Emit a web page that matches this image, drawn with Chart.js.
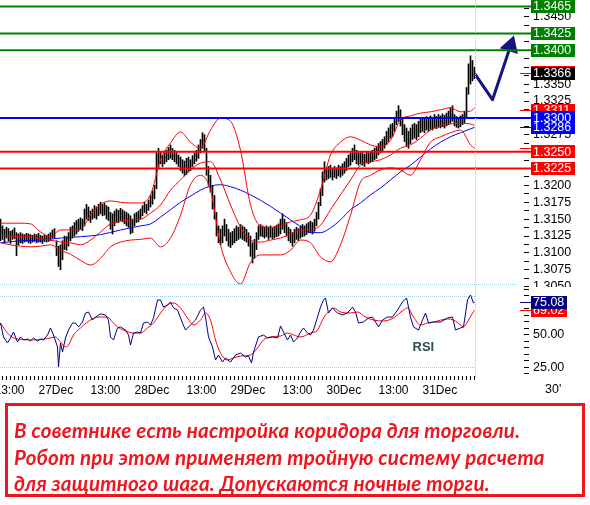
<!DOCTYPE html>
<html lang="ru">
<head>
<meta charset="utf-8">
<title>EURUSD 30'</title>
<script src="https://cdn.jsdelivr.net/npm/chart.js@4.4.1/dist/chart.umd.min.js"></script>
<style>
  html, body { margin: 0; padding: 0; background: #fff; }
  body { width: 590px; height: 505px; position: relative; overflow: hidden; }
  #price { position: absolute; left: -10px; top: 0; }
  #rsi { position: absolute; left: -10px; top: 284px; }
  #note {
    position: absolute; left: 5px; top: 403px; width: 580px; height: 94px;
    box-sizing: border-box; border: 3px solid #f0141e;
    padding: 11px 0 0 6px; white-space: nowrap; letter-spacing: 0.2px;
    color: #f0141e; font: italic bold 20.5px/26.5px Lato, "Noto Sans", sans-serif;
  }
</style>
</head>
<body>
<canvas id="price" width="600" height="287"></canvas>
<canvas id="rsi" width="600" height="116"></canvas>
<div id="note">В советнике есть настройка коридора для торговли.<br>Робот при этом применяет тройную систему расчета<br>для защитного шага. Допускаются ночные торги.</div>
<script>
// prices are points above 1.3000; one bar = 30 min, bar 19 = 27 Dec 00:00
const BASE = 1.3;

const highPts = [
  150,140,135,138,136,132,134,137,130,128,
  130,128,127,129,128,127,126,128,127,129,
  126,125,127,126,128,130,134,136,118,110,
  112,118,125,124,130,138,140,145,148,150,
  152,150,165,172,168,162,165,170,168,172,
  175,172,174,170,168,160,158,162,165,163,
  166,164,162,160,158,155,150,158,160,162,
  165,170,175,172,178,185,192,200,250,255,
  250,245,248,252,256,260,255,252,250,245,
  242,238,236,240,242,238,244,248,252,260,
  268,278,275,255,228,215,200,185,160,140,
  135,140,150,142,135,130,132,136,140,138,
  142,140,138,135,130,125,115,120,130,140,
  142,140,138,140,138,140,137,139,141,143,
  150,158,150,145,138,135,130,135,138,136,
  140,142,140,143,145,147,145,150,160,175,
  195,220,235,225,228,230,225,228,226,230,
  228,232,235,240,245,248,255,260,252,248,
  250,248,246,250,248,250,252,255,258,262,
  265,268,272,280,285,290,292,300,310,318,
  312,300,290,285,280,285,290,292,290,295,
  298,300,298,302,300,303,300,305,302,305,
  303,306,304,307,310,315,318,305,302,300,
  303,305,310,345,380,392,385,375
];
const lowPts = [
  118,120,115,122,118,114,120,121,96,112,
  115,114,116,117,115,114,116,117,115,116,
  116,114,117,116,117,118,122,122,96,80,
  75,90,105,104,110,118,122,125,128,132,
  135,133,140,150,148,145,150,152,150,155,
  158,155,156,150,148,135,128,140,145,145,
  148,146,143,140,138,128,130,140,145,146,
  150,155,160,158,163,168,172,180,195,225,
  232,228,232,235,238,240,238,235,232,228,
  222,218,214,216,220,222,228,232,236,240,
  248,255,250,215,200,190,165,150,125,115,
  112,115,125,118,110,108,112,115,118,120,
  122,120,118,116,110,95,85,92,105,120,
  125,124,122,124,120,123,121,122,124,125,
  128,135,130,125,118,115,110,115,120,118,
  122,124,125,127,130,130,128,132,140,150,
  170,185,205,208,210,212,208,212,210,214,
  212,215,218,222,228,230,235,238,232,230,
  232,230,228,233,232,234,235,238,240,245,
  248,250,255,260,265,270,272,280,290,295,
  288,275,265,258,255,262,268,270,268,272,
  278,280,278,282,280,283,282,285,284,286,
  285,287,285,288,290,292,295,288,286,285,
  287,290,292,300,335,350,355,358
];

// Bollinger bands, read every 5 bars
const bandIdx = [0,5,10,15,20,25,30,35,40,45,50,55,60,65,70,75,80,85,90,95,100,105,110,115,120,
  125,130,135,140,145,150,155,160,165,170,175,180,185,190,195,200,205,210,215,220,225,230,235,237];
const bandUpper = [144,144,144,143,131,124,134,134,135,156,172,177,175,174,174,186,238,263,279,264,
  255,282,300,295,252,171,140,138,140,146,149,156,193,245,264,272,267,260,257,267,
  297,303,307,309,312,315,309,310,315];
const bandMid = [126,125,124,124,121,119,116,115,112,119,131,143,147,149,150,159,171,193,208,223,
  233,235,208,171,138,119,116,119,122,128,134,134,141,164,186,208,230,235,238,245,
  255,260,270,282,288,291,292,291,289];
const bandLower = [115,112,110,109,110,112,104,98,89,82,92,109,116,119,120,122,109,122,156,201,
  215,193,112,72,54,86,97,97,97,104,119,115,94,87,112,156,205,215,223,226,
  223,215,238,264,272,278,282,260,255];

// slow moving average (blue)
const maIdx = [0,10,20,30,40,50,60,70,75,80,85,90,95,100,105,110,115,120,125,130,135,140,145,150,
  155,160,165,170,175,180,185,190,195,200,205,210,215,220,225,230,237];
const maPts = [115,118,119,122,124,127,134,140,143,153,164,175,184,193,199,201,198,193,186,178,169,
  159,149,139,130,130,137,149,164,174,186,196,208,220,230,242,254,264,272,278,286];

const greenLevels = [465, 425, 400];
const blueLevels = [300];
const redLevels = [250, 225];
const lastClose = 366;
const lastUpper = 311;
const lastLower = 255;
const lastMa = 286;

const arrowIdx = [237, 246, 255];
const arrowPts = [366, 327, 406.6];

// RSI and its signal line
const rsiIdx = [0,1.5,3.5,5,6.5,8.5,10,11.5,13.5,15,16.5,18.5,20,21.5,23.5,25,26.5,28.5,29,30,31,32.5,34,36,
  37.5,39,41,42.5,44,46,47.5,50,52.5,54,55,56.5,58.5,60,62.5,64,65,66.5,68.5,70,71.5,73.5,75,76.5,78.5,80,
  81.5,83.5,85,86.5,88.5,91,92.5,95,97.5,100,101.5,102.5,104,106,107.5,109,111,112.5,115,117.5,120,122.5,
  124,125.5,126.5,129,131.5,133.5,136,138.5,140,141.5,143.5,145,146.5,148.5,150,151.5,153.5,155,156.5,
  158.5,160,161.5,162.5,164,166,168.5,171,173.5,176,177.5,179,181.5,184,186,187.5,189,191,193.5,196,198.5,
  201,203,204,205,206.5,209,211,212.5,214,216.5,220,223.5,226,227.5,230,231.5,233.5,235,236.5,237];
const rsiVals = [59.2,48.5,43.8,47.7,52.3,44.6,48.5,46.2,46.9,45.4,47.7,45.4,46.9,46.2,50,55.4,50,40.8,25.4,
  43.8,36.9,47.7,53.8,59.2,59.2,56.2,60,66.9,67.7,61.5,63.8,66.2,65.4,61.5,48.5,46.2,55.4,56.2,53.8,50,
  42.3,51.5,52.3,51.5,59.2,60,57.7,63.1,76.9,76.9,71.5,73.1,75.4,70.8,69.2,59.2,53.8,57.7,61.5,69.2,71.5,
  63.8,48.5,40.8,30.8,34.6,29.2,32.3,29.2,34.6,36.2,33.1,33.8,28.5,36.9,48.5,50,47.7,48.5,47.7,56.9,52.3,
  46.2,50,44.6,47.7,52.3,55.4,51.5,50,53.8,63.8,71.5,76.9,78.5,66.9,70.8,66.9,65.4,66.9,71.5,67.7,59.2,
  60,63.1,63.8,60,56.2,61.5,63.8,63.8,69.2,75.4,78.5,71.5,63.8,56.2,53.8,61.5,66.9,59.2,60,60,63.1,63.8,
  53.8,55.4,56.2,76.9,80.8,74.6,75.1];
const sigIdx = [0,3.5,6.5,8.5,16.5,25,27.5,30,32.5,34,36.5,40,43.5,48.5,53.5,56,58.5,61.5,66.5,70,73.5,
  76.5,80,83.5,86.5,90,93.5,96.5,100,102.5,105,107.5,110,113.5,116.5,120,125,128.5,131.5,135,140,143.5,
  146.5,150,155,158.5,161.5,165,166.5,170,175,178.5,182.5,186.5,191.5,196.5,201.5,203.5,206.5,210,213.5,
  216.5,223.5,226.5,230,231.5,233.5,236,237];
const sigVals = [59.2,51.5,47.7,46.9,46.2,47.7,48.5,44.6,40.8,42.3,50,55.4,60,63.8,63.8,60,56.2,53.8,51.5,
  51.5,55.4,59.2,66.9,73.1,74.6,70.8,63.1,57.7,61.5,66.9,61.5,46.2,36.2,30.8,32.3,33.8,34.6,40,46.2,48.5,
  49.2,51.5,50,48.5,51.5,53.8,63.1,69.2,70.8,67.7,66.9,67.7,63.8,61.5,60.8,63.1,69.2,70.8,63.8,57.7,59.2,
  60,62.3,61.5,57.7,56.2,60,66.9,69.0];
const rsiNow = 75.08;
const sigNow = 69.02;
const rsiLevels = [80, 25];

// axis labels (1.3375 sits under the close tag, so it is left out)
const priceLabelPts = [50,75,100,125,150,175,200,225,250,275,300,325,350,400,425,450];
const rsiLabelVals = [25, 50, 75];
const timeIdx = [-3, 19, 45, 67, 93, 115, 141, 163, 189, 211];
const timeLabels = ['13:00','27Dec','13:00','28Dec','13:00','29Dec','13:00','30Dec','13:00','31Dec'];
const lastBar = 237;

Chart.defaults.font.family = "'Liberation Sans', Arial, sans-serif";
Chart.defaults.font.size = 12;
Chart.defaults.color = '#000';

const fmt = v => (BASE + v / 10000).toFixed(4);
const pts = (xs, ys) => xs.map((x, k) => ({ x: x, y: ys[k] }));

const priceTicks = [];
for (let v = 50; v <= 462.5; v += 12.5) priceTicks.push(v);
const rsiTicks = [];
for (let v = 20; v <= 85; v += 5) rsiTicks.push(v);
const hourTicks = [];
for (let i = -5; i <= lastBar; i += 2) hourTicks.push(i);

function lineSet(data, color, width) {
  return { type: 'line', data: data, borderColor: color, borderWidth: width || 1,
    pointRadius: 0, fill: false, cubicInterpolationMode: 'monotone' };
}
function levelSet(levels, color) {
  return levels.map(v => ({
    type: 'line', data: [{ x: -5.25, y: v }, { x: 265.25, y: v }],
    borderColor: color, borderWidth: 2, pointRadius: 0, clip: false
  }));
}

function dotted(ctx, x1, y1, x2, y2) {
  ctx.save();
  ctx.strokeStyle = '#9ccfe8';
  ctx.lineWidth = 1;
  ctx.setLineDash([1, 1]);
  ctx.beginPath(); ctx.moveTo(x1, y1); ctx.lineTo(x2, y2); ctx.stroke();
  ctx.restore();
}

// price tags on the right axis
const priceDecor = {
  id: 'priceDecor',
  afterDraw(chart) {
    const ctx = chart.ctx;
    const xs = chart.scales.x, ys = chart.scales.y;
    const bx = xs.right + 7;
    const vx = Math.round(xs.getPixelForValue(lastBar)) + 0.5;
    dotted(ctx, vx, 0, vx, chart.height);

    ctx.save();
    ctx.lineWidth = 1;
    const stub = (v, color) => {
      const yy = Math.round(ys.getPixelForValue(v)) + 0.5;
      ctx.strokeStyle = color;
      ctx.beginPath(); ctx.moveTo(xs.right - 4, yy); ctx.lineTo(bx, yy); ctx.stroke();
    };
    stub(lastUpper, '#ff0000');
    stub(lastLower, '#ff0000');
    stub(lastMa, '#0000ff');
    stub(lastClose, '#ff0000');

    ctx.font = "12.5px 'Liberation Sans', Arial, sans-serif";
    ctx.textBaseline = 'middle';
    const box = (v, bg) => {
      const yy = ys.getPixelForValue(v);
      ctx.fillStyle = bg;
      ctx.fillRect(bx, Math.round(yy - 6.5), 44, 13);
    };
    const txt = v => {
      ctx.fillStyle = '#fff';
      ctx.fillText(fmt(v), bx + 2, ys.getPixelForValue(v) + 0.5);
    };
    box(lastUpper, '#ff0000'); txt(lastUpper);
    blueLevels.forEach(v => box(v, '#0000ff'));
    box(lastMa, '#0000ff');
    blueLevels.forEach(txt); txt(lastMa);
    redLevels.forEach(v => { box(v, '#ff0000'); txt(v); });
    greenLevels.forEach(v => { box(v, '#008000'); txt(v); });
    box(lastClose, '#000');
    const cy = Math.round(ys.getPixelForValue(lastClose) - 6.5) - 0.5;
    ctx.strokeStyle = '#ff0000';
    ctx.beginPath(); ctx.moveTo(bx, cy); ctx.lineTo(bx + 44, cy); ctx.stroke();
    txt(lastClose);
    ctx.restore();
  }
};

const rsiDecor = {
  id: 'rsiDecor',
  afterDraw(chart) {
    const ctx = chart.ctx;
    const xs = chart.scales.x, ys = chart.scales.y;
    const ca = chart.chartArea;
    const vx = Math.round(xs.getPixelForValue(lastBar)) + 0.5;
    dotted(ctx, ca.left, 0.5, ca.right - 6, 0.5);
    rsiLevels.forEach(v => {
      const yy = Math.round(ys.getPixelForValue(v)) + 0.5;
      dotted(ctx, ca.left, yy, vx, yy);
    });
    dotted(ctx, vx, 0, vx, ca.bottom + 1);

    ctx.save();
    const bx = xs.right + 7;
    ctx.lineWidth = 1;
    ctx.font = "12.5px 'Liberation Sans', Arial, sans-serif";
    ctx.textBaseline = 'middle';
    const tag = (v, bg) => {
      const yy = ys.getPixelForValue(v);
      ctx.strokeStyle = bg;
      ctx.beginPath(); ctx.moveTo(xs.right - 4, Math.round(yy) + 0.5); ctx.lineTo(bx, Math.round(yy) + 0.5); ctx.stroke();
      ctx.fillStyle = bg;
      ctx.fillRect(bx, Math.round(yy - 6.5), 36, 13);
      ctx.fillStyle = '#fff';
      ctx.fillText(v.toFixed(2), bx + 2, yy + 0.5);
    };
    tag(sigNow, '#ff0000');
    tag(rsiNow, '#000080');

    ctx.fillStyle = '#2f4f4f';
    ctx.font = "bold 13px 'Liberation Sans', Arial, sans-serif";
    ctx.fillText('RSI', xs.getPixelForValue(206), ys.getPixelForValue(40.8));
    ctx.fillStyle = '#000';
    ctx.font = "12.5px 'Liberation Sans', Arial, sans-serif";
    ctx.fillText("30'", ca.right + 21, ca.bottom + 14);
    ctx.restore();
  }
};

const priceData = highPts.map((h, i) => ({ x: i, y: [lowPts[i], h] }));

new Chart(document.getElementById('price'), {
  type: 'line',
  data: {
    datasets: [
      ...levelSet(greenLevels, '#008000'),
      ...levelSet(blueLevels, '#0000ff'),
      ...levelSet(redLevels, '#ff0000'),
      {
        type: 'line', data: pts(arrowIdx, arrowPts), borderColor: '#141482', backgroundColor: '#141482',
        borderWidth: 3, pointRadius: [0, 0, 8], pointStyle: 'triangle', pointRotation: [0, 0, 18],
        borderJoinStyle: 'round', clip: false
      },
      lineSet(pts(bandIdx, bandUpper), '#ff0000'),
      lineSet(pts(bandIdx, bandMid), '#ff0000'),
      lineSet(pts(bandIdx, bandLower), '#ff0000'),
      lineSet(pts(maIdx, maPts), '#0000ff'),
      { type: 'bar', data: priceData, backgroundColor: '#000', borderWidth: 0, barThickness: 1 }
    ]
  },
  options: {
    responsive: false, animation: false, events: [],
    layout: { padding: 0, autoPadding: false },
    plugins: { legend: { display: false }, tooltip: { enabled: false } },
    scales: {
      x: { type: 'linear', min: -5.25, max: 261.75, bounds: 'data', offset: false, display: false },
      y: {
        type: 'linear', position: 'right', min: 49.5, max: 474.6, bounds: 'data',
        border: { display: false },
        grid: { drawOnChartArea: false, tickLength: 5, color: '#000' },
        ticks: {
          autoSkip: false, padding: 4, color: '#000', font: { size: 12.5 },
          callback: v => priceLabelPts.includes(v) ? fmt(v) : ''
        },
        afterBuildTicks: s => { s.ticks = priceTicks.map(v => ({ value: v })); },
        afterFit: s => { s.width = 66; s.paddingTop = 0; s.paddingBottom = 0; }
      }
    }
  },
  plugins: [priceDecor]
});

new Chart(document.getElementById('rsi'), {
  type: 'line',
  data: {
    datasets: [
      { type: 'line', data: pts(rsiIdx, rsiVals), borderColor: '#000080', borderWidth: 1, pointRadius: 0, tension: 0 },
      lineSet(pts(sigIdx, sigVals), '#ff0000')
    ]
  },
  options: {
    responsive: false, animation: false, events: [],
    layout: { padding: 0, autoPadding: false },
    plugins: { legend: { display: false }, tooltip: { enabled: false } },
    scales: {
      x: {
        type: 'linear', position: 'bottom', min: -5.25, max: 261.75, bounds: 'data', offset: false,
        border: { display: false },
        grid: { drawOnChartArea: false, tickLength: 4, color: '#000' },
        ticks: {
          autoSkip: false, maxRotation: 0, minRotation: 0, align: 'start', padding: 3,
          font: { size: 12 }, color: '#000',
          callback: v => { const k = timeIdx.indexOf(v); return k >= 0 ? timeLabels[k] : ''; }
        },
        afterBuildTicks: s => { s.ticks = hourTicks.map(v => ({ value: v })); },
        afterFit: s => { s.height = 24; s.paddingLeft = 0; s.paddingRight = 0; }
      },
      y: {
        type: 'linear', position: 'right', min: 18.46, max: 89.23, bounds: 'data',
        border: { display: false },
        grid: { drawOnChartArea: false, tickLength: 5, color: '#000' },
        ticks: {
          autoSkip: false, padding: 4, color: '#000', font: { size: 12.5 },
          callback: v => rsiLabelVals.includes(v) ? v.toFixed(2) : ''
        },
        afterBuildTicks: s => { s.ticks = rsiTicks.map(v => ({ value: v })); },
        afterFit: s => { s.width = 66; s.paddingTop = 0; s.paddingBottom = 0; }
      }
    }
  },
  plugins: [rsiDecor]
});
</script>
</body>
</html>
